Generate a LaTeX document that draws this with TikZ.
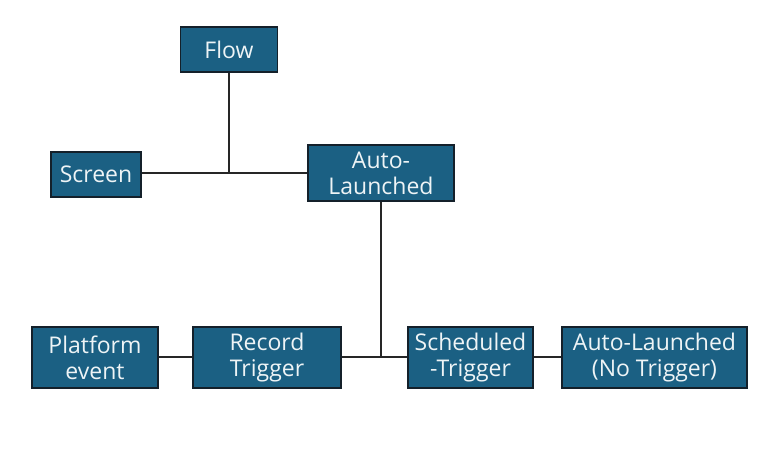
\documentclass[tikz,border=0pt]{standalone}
\usepackage{fontspec}
\setmainfont{Open Sans}
\definecolor{boxblue}{HTML}{1B6083}
\definecolor{edgec}{HTML}{14202A}
\definecolor{txt}{HTML}{EEF4F6}
\begin{document}
\begin{tikzpicture}[x=1pt,y=-1pt,
  box/.style={draw=edgec,line width=1.2pt,fill=boxblue,text=txt,inner sep=0pt,align=center,
    font=\fontsize{23}{26}\selectfont},
  conn/.style={draw=black!85,line width=1.3pt}]
\useasboundingbox[fill=white] (0,0) rectangle (768,448);
\node[box,minimum width=97pt,minimum height=45pt] (flow) at (229,49.5) {Flow};
\node[box,minimum width=90pt,minimum height=45pt] (screen) at (96,174.5) {Screen};
\node[box,minimum width=146pt,minimum height=56pt] (auto) at (381,173) {Auto-\\Launched};
\node[box,minimum width=126pt,minimum height=61pt] (plat) at (95,357.5) {Platform\\event};
\node[box,minimum width=148pt,minimum height=61pt] (rec) at (267,357.5) {Record\\Trigger};
\node[box,minimum width=125pt,minimum height=61pt] (sched) at (470.5,357.5) {Scheduled\\-Trigger};
\node[box,minimum width=185pt,minimum height=61pt] (antr) at (654.5,357.5) {Auto-Launched\\(No Trigger)};
\coordinate (j1) at (229,173);
\coordinate (j2) at (381,357);
\draw[conn] (flow.south) -- (j1);
\draw[conn] (screen.east |- j1) -- (auto.west |- j1);
\draw[conn] (auto.south) -- (j2);
\draw[conn] (rec.east |- j2) -- (sched.west |- j2);
\draw[conn] (plat.east |- j2) -- (rec.west |- j2);
\draw[conn] (sched.east |- j2) -- (antr.west |- j2);
\end{tikzpicture}
\end{document}
